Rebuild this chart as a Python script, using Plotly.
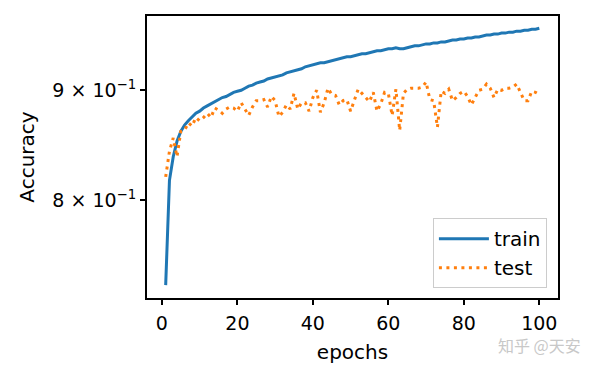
import plotly.graph_objects as go

epochs = list(range(1, 101))

train_acc = [
    0.730, 0.817, 0.838, 0.852, 0.861, 0.867, 0.871, 0.875, 0.878, 0.880,
    0.883, 0.885, 0.887, 0.889, 0.891, 0.893, 0.894, 0.896, 0.898, 0.899,
    0.900, 0.902, 0.904, 0.905, 0.907, 0.908, 0.909, 0.911, 0.912, 0.913,
    0.914, 0.915, 0.917, 0.918, 0.919, 0.920, 0.921, 0.923, 0.924, 0.925,
    0.926, 0.927, 0.927, 0.928, 0.929, 0.930, 0.931, 0.932, 0.933, 0.933,
    0.934, 0.935, 0.936, 0.936, 0.937, 0.938, 0.939, 0.939, 0.940, 0.941,
    0.941, 0.942, 0.941, 0.941, 0.942, 0.943, 0.944, 0.944, 0.945, 0.946,
    0.946, 0.947, 0.947, 0.948, 0.948, 0.949, 0.950, 0.950, 0.951, 0.951,
    0.952, 0.952, 0.953, 0.953, 0.954, 0.955, 0.955, 0.956, 0.956, 0.957,
    0.957, 0.958, 0.958, 0.959, 0.959, 0.960, 0.960, 0.961, 0.961, 0.962,
]

test_acc = [
    0.820, 0.843, 0.855, 0.838, 0.861, 0.862, 0.869, 0.866, 0.874, 0.871,
    0.874, 0.878, 0.874, 0.883, 0.881, 0.878, 0.882, 0.884, 0.883, 0.880,
    0.888, 0.882, 0.876, 0.884, 0.890, 0.890, 0.891, 0.884, 0.894, 0.890,
    0.875, 0.879, 0.886, 0.882, 0.897, 0.882, 0.888, 0.888, 0.880, 0.893,
    0.900, 0.879, 0.888, 0.902, 0.896, 0.895, 0.886, 0.890, 0.891, 0.880,
    0.890, 0.901, 0.897, 0.893, 0.889, 0.898, 0.880, 0.887, 0.898, 0.897,
    0.876, 0.901, 0.862, 0.897, 0.901, 0.902, 0.902, 0.902, 0.903, 0.908,
    0.891, 0.890, 0.865, 0.899, 0.897, 0.901, 0.890, 0.893, 0.897, 0.899,
    0.894, 0.886, 0.893, 0.900, 0.901, 0.906, 0.902, 0.893, 0.901, 0.900,
    0.902, 0.902, 0.903, 0.906, 0.898, 0.890, 0.890, 0.899, 0.898, 0.896,
]

x_ticks = [0, 20, 40, 60, 80, 100]
y_ticks = [0.8, 0.9]
y_tick_labels = ["8 × 10<sup>−1</sup>", "9 × 10<sup>−1</sup>"]

font_family = "DejaVu Sans"

fig = go.Figure()
fig.add_trace(go.Scatter(
    x=epochs, y=train_acc, mode="lines", name="train",
    line=dict(color="#1f77b4", width=3),
))
fig.add_trace(go.Scatter(
    x=epochs, y=test_acc, mode="lines", name="test",
    line=dict(color="#ff7f0e", width=3, dash="3px,4.5px"),
))

axis_common = dict(
    showline=True, linecolor="black", linewidth=2, mirror=True,
    showgrid=False, zeroline=False,
    ticks="outside", ticklen=5, tickwidth=2, tickcolor="black",
    tickfont=dict(family=font_family, size=19, color="black"),
)

fig.update_xaxes(
    range=[-3.95, 104.95], tickvals=x_ticks, ticklabelstandoff=2,
    title=dict(text="epochs", font=dict(family=font_family, size=20, color="black"), standoff=12),
    **axis_common,
)
fig.update_yaxes(
    type="log", range=[-0.1427, -0.0111],
    tickvals=y_ticks, ticktext=y_tick_labels,
    title=dict(text="Accuracy", font=dict(family=font_family, size=20, color="black"), standoff=12),
    **axis_common,
)

L, R, T, B = 139, 49, 6, 78
W, H = 599, 368
pw, ph = W - L - R, H - T - B

fig.update_layout(
    width=W, height=H,
    margin=dict(l=L, r=R, t=T, b=B),
    paper_bgcolor="white", plot_bgcolor="white",
    font=dict(family=font_family, color="black"),
    showlegend=True,
    legend=dict(
        x=0.973, y=0.035, xanchor="right", yanchor="bottom",
        bgcolor="rgba(255,255,255,0.8)", bordercolor="#cccccc", borderwidth=1,
        font=dict(family=font_family, size=20, color="black"),
        tracegroupgap=0, itemwidth=50,
    ),
    annotations=[dict(
        text="知乎 @天安",
        x=(575 - L) / pw, y=(T + ph - 337) / ph,
        xref="paper", yref="paper", xanchor="right", yanchor="middle",
        showarrow=False,
        font=dict(family="Noto Sans CJK SC", size=16, color="#c8c8c8"),
    )],
)

fig.write_html("out.html")
